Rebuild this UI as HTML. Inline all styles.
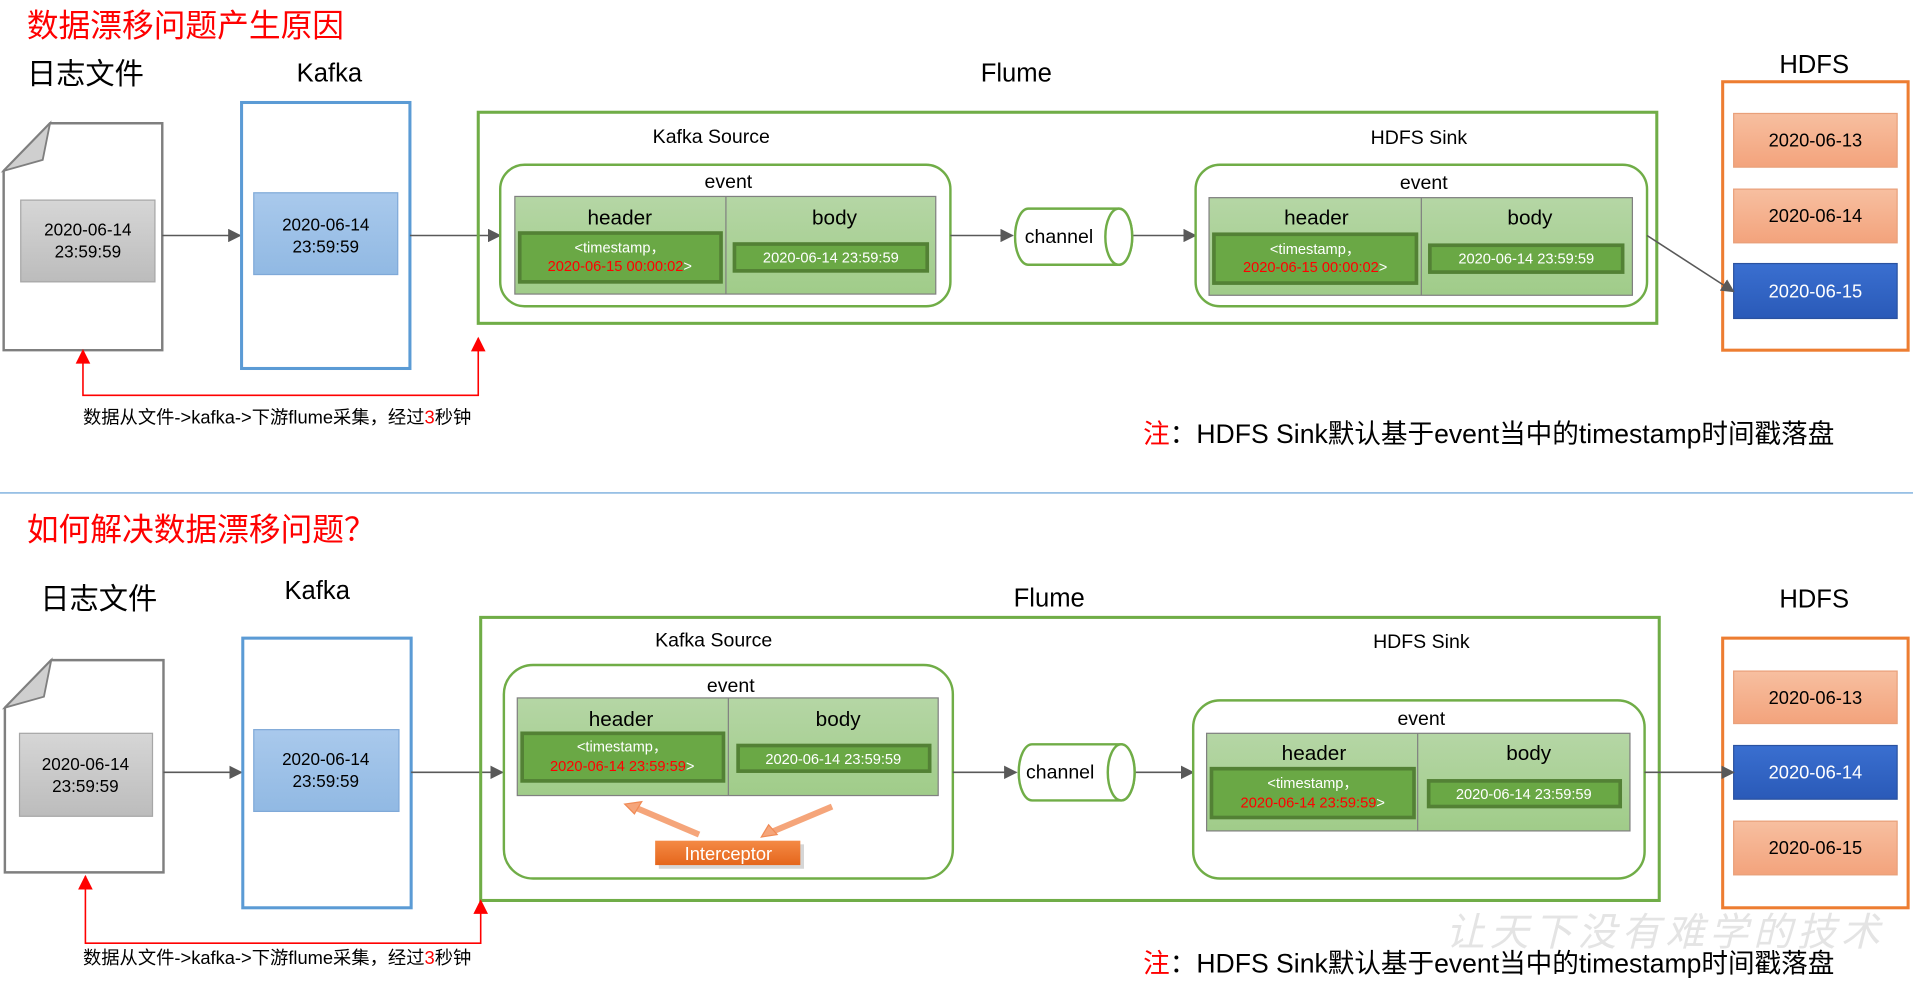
<!DOCTYPE html>
<html><head><meta charset="utf-8"><style>
html,body{margin:0;padding:0;background:#fff;width:1913px;height:981px;overflow:hidden}
svg{display:block}
text{font-family:"Liberation Sans","Noto Sans CJK SC",sans-serif}
</style></head><body>
<svg width="1913" height="981" viewBox="0 0 1568 804" preserveAspectRatio="none" xmlns="http://www.w3.org/2000/svg">
<defs>
<marker id="ah" markerWidth="11" markerHeight="11" refX="10" refY="5.5" orient="auto" markerUnits="userSpaceOnUse"><path d="M0,0 L11,5.5 L0,11 z" fill="#595959"/></marker>
<linearGradient id="gg" x1="0" y1="0" x2="0" y2="1"><stop offset="0" stop-color="#d6d6d6"/><stop offset="1" stop-color="#bcbcbc"/></linearGradient>
<linearGradient id="bg" x1="0" y1="0" x2="0" y2="1"><stop offset="0" stop-color="#a9c9ec"/><stop offset="1" stop-color="#91b9e3"/></linearGradient>
<linearGradient id="tg" x1="0" y1="0" x2="0" y2="1"><stop offset="0" stop-color="#b5d6a5"/><stop offset="1" stop-color="#a0cc89"/></linearGradient>
<linearGradient id="sg" x1="0" y1="0" x2="0" y2="1"><stop offset="0" stop-color="#f7bfa0"/><stop offset="1" stop-color="#f3a37c"/></linearGradient>
<linearGradient id="dg" x1="0" y1="0" x2="0" y2="1"><stop offset="0" stop-color="#3a6fd0"/><stop offset="1" stop-color="#2a5ab8"/></linearGradient>
<linearGradient id="og" x1="0" y1="0" x2="0" y2="1"><stop offset="0" stop-color="#f48a45"/><stop offset="1" stop-color="#e5661c"/></linearGradient>
</defs>

<!-- ===== TOP ===== -->
<text x="22" y="30" font-size="26" fill="#ff0000">数据漂移问题产生原因</text>
<text x="22" y="69" font-size="24" fill="#000">日志文件</text>
<text x="270" y="67" font-size="21" fill="#000" text-anchor="middle">Kafka</text>
<text x="833" y="67" font-size="21" fill="#000" text-anchor="middle">Flume</text>
<text x="1487" y="60" font-size="21" fill="#000" text-anchor="middle">HDFS</text>

<path d="M41,101 L133,101 L133,287 L3,287 L3,140 Z" fill="#fff" stroke="#7f7f7f" stroke-width="2"/>
<path d="M41,101 L35,131 L3,140 Z" fill="#cfcfcf" stroke="#7f7f7f" stroke-width="1.5"/>
<rect x="17" y="164" width="110" height="67" fill="url(#gg)" stroke="#a6a6a6"/>
<text x="72" y="193" font-size="14" text-anchor="middle">2020-06-14</text>
<text x="72" y="211" font-size="14" text-anchor="middle">23:59:59</text>
<line x1="133" y1="193" x2="197" y2="193" stroke="#595959" stroke-width="1.3" marker-end="url(#ah)"/>

<rect x="198" y="84" width="138" height="218" fill="#fff" stroke="#5b9bd5" stroke-width="2.5"/>
<rect x="208" y="158" width="118" height="67" fill="url(#bg)" stroke="#7fa9d8"/>
<text x="267" y="189" font-size="14" text-anchor="middle">2020-06-14</text>
<text x="267" y="207" font-size="14" text-anchor="middle">23:59:59</text>
<line x1="336" y1="193" x2="410" y2="193" stroke="#595959" stroke-width="1.3" marker-end="url(#ah)"/>

<rect x="392" y="92" width="966" height="173" fill="none" stroke="#70ad47" stroke-width="2.5"/>
<text x="583" y="117" font-size="16" text-anchor="middle">Kafka Source</text>
<text x="1163" y="118" font-size="16" text-anchor="middle">HDFS Sink</text>

<rect x="410" y="135" width="369" height="116" rx="20" fill="#fff" stroke="#70ad47" stroke-width="2"/>
<text x="597" y="154" font-size="16" text-anchor="middle">event</text>
<rect x="422" y="161" width="345" height="80" fill="url(#tg)" stroke="#808080"/>
<line x1="595" y1="161" x2="595" y2="241" stroke="#808080"/>
<text x="508" y="184" font-size="17" text-anchor="middle">header</text>
<text x="684" y="184" font-size="17" text-anchor="middle">body</text>
<rect x="426" y="191" width="165" height="40" fill="#6aa845" stroke="#538135" stroke-width="3"/>
<text x="508" y="207" font-size="12" fill="#fff" text-anchor="middle">&lt;timestamp，</text>
<text x="508" y="222" font-size="12" fill="#fff" text-anchor="middle"><tspan fill="#ff0000">2020-06-15 00:00:02</tspan>&gt;</text>
<rect x="602" y="200" width="158" height="22" fill="#6aa845" stroke="#538135" stroke-width="3"/>
<text x="681" y="215" font-size="12" fill="#fff" text-anchor="middle">2020-06-14 23:59:59</text>

<line x1="779" y1="193" x2="830" y2="193" stroke="#595959" stroke-width="1.3" marker-end="url(#ah)"/>
<path d="M843,171 L917,171 A11,23 0 0 1 917,217 L843,217 A11,23 0 0 1 843,171 Z" fill="#fff" stroke="#70ad47" stroke-width="2"/>
<ellipse cx="917" cy="194" rx="11" ry="23" fill="#fff" stroke="#70ad47" stroke-width="2"/>
<text x="868" y="199" font-size="16" text-anchor="middle">channel</text>
<line x1="929" y1="193" x2="980" y2="193" stroke="#595959" stroke-width="1.3" marker-end="url(#ah)"/>

<rect x="980" y="135" width="370" height="116" rx="20" fill="#fff" stroke="#70ad47" stroke-width="2"/>
<text x="1167" y="155" font-size="16" text-anchor="middle">event</text>
<rect x="991" y="162" width="347" height="80" fill="url(#tg)" stroke="#808080"/>
<line x1="1165" y1="162" x2="1165" y2="242" stroke="#808080"/>
<text x="1079" y="184" font-size="17" text-anchor="middle">header</text>
<text x="1254" y="184" font-size="17" text-anchor="middle">body</text>
<rect x="995" y="192" width="166" height="40" fill="#6aa845" stroke="#538135" stroke-width="3"/>
<text x="1078" y="208" font-size="12" fill="#fff" text-anchor="middle">&lt;timestamp，</text>
<text x="1078" y="223" font-size="12" fill="#fff" text-anchor="middle"><tspan fill="#ff0000">2020-06-15 00:00:02</tspan>&gt;</text>
<rect x="1172" y="201" width="158" height="22" fill="#6aa845" stroke="#538135" stroke-width="3"/>
<text x="1251" y="216" font-size="12" fill="#fff" text-anchor="middle">2020-06-14 23:59:59</text>

<rect x="1412" y="67" width="152" height="220" fill="#fff" stroke="#ed7d31" stroke-width="2.5"/>
<rect x="1421" y="93" width="134" height="44" fill="url(#sg)" stroke="#e9a07a"/>
<text x="1488" y="120" font-size="15" text-anchor="middle">2020-06-13</text>
<rect x="1421" y="155" width="134" height="44" fill="url(#sg)" stroke="#e9a07a"/>
<text x="1488" y="182" font-size="15" text-anchor="middle">2020-06-14</text>
<rect x="1421" y="216" width="134" height="45" fill="url(#dg)" stroke="#2a52a0"/>
<text x="1488" y="244" font-size="15" fill="#fff" text-anchor="middle">2020-06-15</text>
<line x1="1350" y1="193" x2="1421" y2="239" stroke="#595959" stroke-width="1.3" marker-end="url(#ah)"/>

<polyline points="68,289 68,324 392,324 392,277" fill="none" stroke="#ff0000" stroke-width="1.3"/>
<path d="M62,298 L68,286 L74,298 Z" fill="#ff0000"/>
<path d="M386,288 L392,276 L398,288 Z" fill="#ff0000"/>
<text x="68" y="347" font-size="15">数据从文件-&gt;kafka-&gt;下游flume采集，经过<tspan fill="#ff0000">3</tspan>秒钟</text>
<text x="937" y="363" font-size="21.8"><tspan fill="#ff0000">注</tspan>：HDFS Sink默认基于event当中的timestamp时间戳落盘</text>

<line x1="0" y1="404" x2="1568" y2="404" stroke="#5b9bd5" stroke-width="1"/>

<!-- ===== BOTTOM ===== -->
<text x="22" y="443" font-size="26" fill="#ff0000">如何解决数据漂移问题？</text>
<text x="33" y="499" font-size="24">日志文件</text>
<text x="260" y="491" font-size="21" text-anchor="middle">Kafka</text>
<text x="860" y="497" font-size="21" text-anchor="middle">Flume</text>
<text x="1487" y="498" font-size="21" text-anchor="middle">HDFS</text>

<path d="M42,541 L134,541 L134,715 L4,715 L4,580 Z" fill="#fff" stroke="#7f7f7f" stroke-width="2"/>
<path d="M42,541 L36,571 L4,580 Z" fill="#cfcfcf" stroke="#7f7f7f" stroke-width="1.5"/>
<rect x="16" y="601" width="109" height="68" fill="url(#gg)" stroke="#a6a6a6"/>
<text x="70" y="631" font-size="14" text-anchor="middle">2020-06-14</text>
<text x="70" y="649" font-size="14" text-anchor="middle">23:59:59</text>
<line x1="134" y1="633" x2="198" y2="633" stroke="#595959" stroke-width="1.3" marker-end="url(#ah)"/>

<rect x="199" y="523" width="138" height="221" fill="#fff" stroke="#5b9bd5" stroke-width="2.5"/>
<rect x="208" y="598" width="119" height="67" fill="url(#bg)" stroke="#7fa9d8"/>
<text x="267" y="627" font-size="14" text-anchor="middle">2020-06-14</text>
<text x="267" y="645" font-size="14" text-anchor="middle">23:59:59</text>
<line x1="337" y1="633" x2="412" y2="633" stroke="#595959" stroke-width="1.3" marker-end="url(#ah)"/>

<rect x="394" y="506" width="966" height="232" fill="none" stroke="#70ad47" stroke-width="2.5"/>
<text x="585" y="530" font-size="16" text-anchor="middle">Kafka Source</text>
<text x="1165" y="531" font-size="16" text-anchor="middle">HDFS Sink</text>

<rect x="413" y="545" width="368" height="175" rx="24" fill="#fff" stroke="#70ad47" stroke-width="2"/>
<text x="599" y="567" font-size="16" text-anchor="middle">event</text>
<rect x="424" y="572" width="345" height="80" fill="url(#tg)" stroke="#808080"/>
<line x1="597" y1="572" x2="597" y2="652" stroke="#808080"/>
<text x="509" y="595" font-size="17" text-anchor="middle">header</text>
<text x="687" y="595" font-size="17" text-anchor="middle">body</text>
<rect x="428" y="601" width="165" height="39" fill="#6aa845" stroke="#538135" stroke-width="3"/>
<text x="510" y="616" font-size="12" fill="#fff" text-anchor="middle">&lt;timestamp，</text>
<text x="510" y="632" font-size="12" fill="#fff" text-anchor="middle"><tspan fill="#ff0000">2020-06-14 23:59:59</tspan>&gt;</text>
<rect x="605" y="611" width="157" height="21" fill="#6aa845" stroke="#538135" stroke-width="3"/>
<text x="683" y="626" font-size="12" fill="#fff" text-anchor="middle">2020-06-14 23:59:59</text>

<!-- interceptor arrows -->
<path d="M573,684 L521,662" stroke="#f5a57a" stroke-width="5" fill="none"/>
<path d="M512,659 L526,657 L520,667 Z" fill="#f5a57a" stroke="#f08a55" stroke-width="1"/>
<path d="M682,661 L632,682" stroke="#f5a57a" stroke-width="5" fill="none"/>
<path d="M624,686 L630,676 L637,684 Z" fill="#f5a57a" stroke="#f08a55" stroke-width="1"/>
<rect x="540" y="692" width="119" height="20" fill="#999" opacity="0.4"/>
<rect x="537" y="689" width="119" height="20" fill="url(#og)"/>
<text x="597" y="705" font-size="15" fill="#fff" text-anchor="middle">Interceptor</text>

<line x1="781" y1="633" x2="833" y2="633" stroke="#595959" stroke-width="1.3" marker-end="url(#ah)"/>
<path d="M846,610 L919,610 A11,23 0 0 1 919,656 L846,656 A11,23 0 0 1 846,610 Z" fill="#fff" stroke="#70ad47" stroke-width="2"/>
<ellipse cx="919" cy="633" rx="11" ry="23" fill="#fff" stroke="#70ad47" stroke-width="2"/>
<text x="869" y="638" font-size="16" text-anchor="middle">channel</text>
<line x1="931" y1="633" x2="978" y2="633" stroke="#595959" stroke-width="1.3" marker-end="url(#ah)"/>

<rect x="978" y="574" width="370" height="146" rx="22" fill="#fff" stroke="#70ad47" stroke-width="2"/>
<text x="1165" y="594" font-size="16" text-anchor="middle">event</text>
<rect x="989" y="601" width="347" height="80" fill="url(#tg)" stroke="#808080"/>
<line x1="1162" y1="601" x2="1162" y2="681" stroke="#808080"/>
<text x="1077" y="623" font-size="17" text-anchor="middle">header</text>
<text x="1253" y="623" font-size="17" text-anchor="middle">body</text>
<rect x="993" y="630" width="166" height="40" fill="#6aa845" stroke="#538135" stroke-width="3"/>
<text x="1076" y="646" font-size="12" fill="#fff" text-anchor="middle">&lt;timestamp，</text>
<text x="1076" y="662" font-size="12" fill="#fff" text-anchor="middle"><tspan fill="#ff0000">2020-06-14 23:59:59</tspan>&gt;</text>
<rect x="1171" y="640" width="157" height="21" fill="#6aa845" stroke="#538135" stroke-width="3"/>
<text x="1249" y="655" font-size="12" fill="#fff" text-anchor="middle">2020-06-14 23:59:59</text>

<rect x="1412" y="523" width="152" height="221" fill="#fff" stroke="#ed7d31" stroke-width="2.5"/>
<rect x="1421" y="550" width="134" height="43" fill="url(#sg)" stroke="#e9a07a"/>
<text x="1488" y="577" font-size="15" text-anchor="middle">2020-06-13</text>
<rect x="1421" y="611" width="134" height="44" fill="url(#dg)" stroke="#2a52a0"/>
<text x="1488" y="638" font-size="15" fill="#fff" text-anchor="middle">2020-06-14</text>
<rect x="1421" y="673" width="134" height="44" fill="url(#sg)" stroke="#e9a07a"/>
<text x="1488" y="700" font-size="15" text-anchor="middle">2020-06-15</text>
<line x1="1348" y1="633" x2="1421" y2="633" stroke="#595959" stroke-width="1.3" marker-end="url(#ah)"/>

<polyline points="70,718 70,773 394,773 394,739" fill="none" stroke="#ff0000" stroke-width="1.3"/>
<path d="M64,729 L70,717 L76,729 Z" fill="#ff0000"/>
<path d="M388,749 L394,737 L400,749 Z" fill="#ff0000"/>
<text x="68" y="790" font-size="15">数据从文件-&gt;kafka-&gt;下游flume采集，经过<tspan fill="#ff0000">3</tspan>秒钟</text>
<text x="1185" y="775" font-size="32" fill="#e4e4e4" font-style="italic" letter-spacing="4" font-family="'Noto Serif CJK SC',serif">让天下没有难学的技术</text>
<text x="937" y="797" font-size="21.8"><tspan fill="#ff0000">注</tspan>：HDFS Sink默认基于event当中的timestamp时间戳落盘</text>
</svg>
</body></html>
